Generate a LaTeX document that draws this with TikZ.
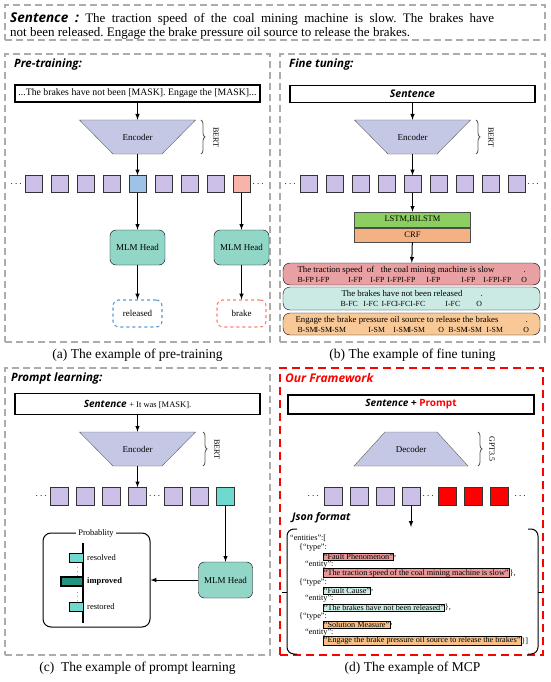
\documentclass[tikz,border=0pt]{standalone}
\usepackage{fontspec}
\usepackage{amsmath}
\setmainfont{Liberation Serif}
\newfontfamily\hdfont{Open Sans}
\usepackage{tikz}
\usetikzlibrary{arrows}
\usetikzlibrary{decorations.pathreplacing}

\definecolor{tokpurple}{RGB}{204,192,232}
\definecolor{encgray}{RGB}{197,200,228}
\definecolor{tokblue}{RGB}{157,195,230}
\definecolor{toksalmon}{RGB}{248,180,168}
\definecolor{headteal}{RGB}{146,214,200}
\definecolor{outblue}{RGB}{91,155,213}
\definecolor{outred}{RGB}{250,128,114}
\definecolor{lstmgreen}{RGB}{140,206,96}
\definecolor{crforange}{RGB}{244,177,131}
\definecolor{labred}{RGB}{232,160,162}
\definecolor{labteal}{RGB}{204,234,228}
\definecolor{laborange}{RGB}{248,200,150}
\definecolor{barteal}{RGB}{110,218,205}
\definecolor{bardark}{RGB}{32,150,130}
\definecolor{jred}{RGB}{232,150,150}
\definecolor{jteal}{RGB}{204,236,230}
\definecolor{jorange}{RGB}{246,192,135}

\newcommand{\hdit}{\hdfont\bfseries\itshape}
\newcommand{\fsz}[1]{\fontsize{#1}{#1}\selectfont}
\newcommand{\tg}[2]{\rlap{\hspace*{#1pt}#2}}
\newcommand{\tagfont}{\fontsize{7.8}{10}\selectfont}
% trapezoid body: centre x, centre y, top half width, bottom half width
\newcommand{\trapez}[4]{\draw [draw=gray!75!black, fill=encgray]
  ({#1-#3},{#2-17}) -- ({#1+#3},{#2-17}) -- ({#1+#4},{#2+17}) -- ({#1-#4},{#2+17}) -- cycle;}

\tikzset{
  panel/.style={draw=gray!65, dash pattern=on 7pt off 4pt, line width=1.1pt, inner sep=0pt},
  ptitle/.style={anchor=west, inner sep=0pt, font=\hdit\fsz{11.5}},
  captext/.style={inner sep=0pt, font=\fsz{13.5}},
  sentbox/.style={draw=black, line width=1.8pt, minimum width=245pt, minimum height=17pt, inner sep=0pt},
  enctext/.style={minimum height=34pt, minimum width=49pt, inner sep=0pt, font=\fsz{9}},
  tok/.style={draw=black!80, fill=tokpurple, minimum size=17pt, inner sep=0pt},
  dots/.style={inner sep=0pt, font=\fsz{10}},
  bert/.style={rotate=-90, inner sep=0pt, font=\fsz{8}},
  brc/.style={decorate, decoration={brace, amplitude=4pt}, draw=gray!70!black, line width=0.8pt},
  head/.style={draw=black, rounded corners=6pt, fill=headteal, minimum width=55pt, minimum height=35pt, inner sep=0pt, font=\fsz{9}},
  outbox/.style={dashed, rounded corners=6pt, line width=1.1pt, minimum width=49pt, minimum height=27pt, inner sep=0pt, font=\fsz{9}},
  arr/.style={-latex, line width=1pt},
  layer/.style={draw=gray!60!black, minimum width=116pt, inner sep=0pt, font=\fsz{8.5}},
  lab/.style={draw=black, rounded corners=7pt, minimum width=257pt, inner sep=0pt, align=center, font=\fontsize{8.8}{10}\selectfont},
  bar/.style={draw=black, line width=1pt, fill=barteal, minimum width=14pt, minimum height=9pt, inner sep=0pt},
  btext/.style={anchor=west, inner sep=0pt, font=\fsz{8.5}},
  jtext/.style={anchor=west, inner sep=0pt, font=\fsz{8.2}},
  hl/.style={draw=black, line width=0.6pt, anchor=west, inner sep=0.6pt, font=\fsz{8.2}}
}

\begin{document}
\begin{tikzpicture}[x=1pt,y=-1pt]
\useasboundingbox[fill=white] (0,0) rectangle (550,682);

\node [panel, minimum width=540pt, minimum height=35pt] (topBox) at (275,22.5) {};
\node [anchor=north west, text width=484pt, align=justify, inner sep=0pt, font=\fontsize{13}{14}\selectfont\frenchspacing] (topS) at (10,12.5)
  {{\hdit\fontsize{13.5}{14}\selectfont Sentence :} The traction speed of the coal mining machine is slow. The brakes have\linebreak
   not been released. Engage the brake pressure oil source to release the brakes.};

% (a) pre-training
\node [panel, minimum width=265pt, minimum height=288pt] (panA) at (137.5,198) {};
\node [ptitle] (titleA) at (14,65) {Pre-training:};
\node [sentbox, font=\fsz{9.8}] (sentA) at (137.5,93.5) {...The brakes have not been [MASK]. Engage the [MASK]...};
\trapez{137.5}{137}{58}{24.5}
\node [enctext] (encA) at (137.5,137) {Encoder};
\draw [brc] (201,120) -- (201,154);
\node [bert] (bertA) at (216,137) {BERT};
\node [dots] (dotsA1) at (17,184) {$\cdots$};
\node [dots] (dotsA2) at (259,184) {$\cdots$};
\foreach \i/\c in {1/tokpurple,2/tokpurple,3/tokpurple,4/tokpurple,5/tokblue,6/tokpurple,7/tokpurple,8/tokpurple,9/toksalmon}
  \node [tok, fill=\c] (tokA\i) at ({7.5+26*\i},184) {};
\node [head] (headA1) at (137.5,247.5) {MLM Head};
\node [head] (headA2) at (241.5,247.5) {MLM Head};
\node [outbox, draw=outblue] (outA1) at (137.5,313.5) {released};
\node [outbox, draw=outred] (outA2) at (241.5,313.5) {brake};
\draw [arr] (sentA) -- (encA);
\draw [arr] (encA) -- (tokA5);
\draw [arr] (tokA5) -- (headA1);
\draw [arr] (tokA9) -- (headA2);
\draw [arr] (headA1) -- (outA1);
\draw [arr] (headA2) -- (outA2);
\node [captext] (capA) at (137.5,355) {(a) The example of pre-training};

% (b) fine tuning
\node [panel, minimum width=265pt, minimum height=288pt] (panB) at (412.5,198) {};
\node [ptitle] (titleB) at (289,65) {Fine tuning:};
\node [sentbox, font=\hdit\fsz{10.5}] (sentB) at (412.5,94) {Sentence};
\trapez{412.5}{137}{58}{24.5}
\node [enctext] (encB) at (412.5,137) {Encoder};
\draw [brc] (476,120) -- (476,154);
\node [bert] (bertB) at (491,137) {BERT};
\node [dots] (dotsB1) at (291,184) {$\cdots$};
\node [dots] (dotsB2) at (534,184) {$\cdots$};
\foreach \i in {1,...,9}
  \node [tok] (tokB\i) at ({282.5+26*\i},184) {};
\node [layer, fill=lstmgreen, minimum height=15pt] (lstmB) at (412.5,219.5) {LSTM,BILSTM};
\node [layer, fill=crforange, minimum height=14pt] (crfB) at (412.5,235) {CRF};
\node [lab, fill=labred, minimum height=22pt] (labB1) at (411.5,274)
  {\tg{3}{The traction speed\ \ of\ \ \ the coal mining machine is slow}\tg{229}{.}\hspace*{234pt}\\
   {\tagfont\tg{3}{B-FP}\tg{21}{I-FP}\tg{54}{I-FP}\tg{76}{I-FP}\tg{93}{I-FP}\tg{107}{I-FP}\tg{132}{I-FP}\tg{167}{I-FP}\tg{189}{I-FP}\tg{203}{I-FP}\tg{227}{O}\hspace*{234pt}}};
\node [lab, fill=labteal, minimum height=23pt] (labB2) at (411.5,298.5)
  {\tg{47}{The brakes have not been released}\tg{186}{.}\hspace*{234pt}\\
   {\tagfont\tg{46}{B-FC}\tg{69}{I-FC}\tg{87}{I-FC}\tg{101}{I-FC}\tg{116}{I-FC}\tg{151}{I-FC}\tg{182}{O}\hspace*{234pt}}};
\node [lab, fill=laborange, minimum height=22pt] (labB3) at (411.5,324)
  {\tg{1}{Engage the brake pressure oil source to release the brakes}\tg{231}{.}\hspace*{234pt}\\
   {\tagfont\tg{3}{B-SM}\tg{21}{I-SM}\tg{35}{I-SM}\tg{74}{I-SM}\tg{99}{I-SM}\tg{114}{I-SM}\tg{144}{O}\tg{154}{B-SM}\tg{171}{I-SM}\tg{192}{I-SM}\tg{229}{O}\hspace*{234pt}}};
\draw [arr] (sentB) -- (encB);
\draw [arr] (encB) -- (tokB5);
\draw [arr] (tokB5) -- (lstmB);
\draw [arr] (crfB) -- (labB1);
\node [captext] (capB) at (412.5,355) {(b) The example of fine tuning};

% (c) prompt learning
\node [panel, minimum width=265pt, minimum height=287pt] (panC) at (137.5,511.5) {};
\node [ptitle] (titleC) at (11,379) {Prompt learning:};
\node [sentbox, minimum height=21pt] (sentC) at (137.5,404)
  {{\hdit\fsz{10}Sentence} {\fsz{8.5}+ It was [MASK].}};
\trapez{137.5}{449}{58}{24.5}
\node [enctext] (encC) at (137.5,449) {Encoder};
\draw [brc] (203,432) -- (203,466);
\node [bert] (bertC) at (217,449) {BERT};
\node [dots] (dotsC1) at (42,496.5) {$\cdots$};
\node [dots] (dotsC2) at (155.5,496.5) {$\cdots$};
\foreach \i/\x/\c in {1/59.5/tokpurple,2/85.5/tokpurple,3/111.5/tokpurple,4/137.5/tokpurple,5/173.5/tokpurple,6/199.5/tokpurple,7/225.5/barteal}
  \node [tok, fill=\c, minimum size=18pt] (tokC\i) at (\x,496.5) {};
\node [head, minimum width=54pt, minimum height=36pt] (headC) at (225.5,580) {MLM Head};
\node [draw=black, line width=1pt, rounded corners=8pt, minimum width=107pt, minimum height=94pt, inner sep=0pt] (probC) at (96.5,580) {};
\node [fill=white, inner sep=2pt, font=\fsz{8.5}] (probT) at (96,533) {Probablity};
\draw [line width=2pt] (83,543) -- (83,623);
\node [bar] (barC1) at (76,557.5) {};
\node [bar, fill=bardark, line width=1.4pt, minimum width=22pt] (barC2) at (72,581.5) {};
\node [bar] (barC3) at (76,606.5) {};
\node [btext] (wordC1) at (87,557.5) {resolved};
\node [btext, font=\bfseries\fsz{8.5}] (wordC2) at (87,581.5) {improved};
\node [btext] (wordC3) at (87,606.5) {restored};
\node [inner sep=0pt, font=\fsz{6}] (vdC1) at (77.5,569.5) {$\vdots$};
\node [inner sep=0pt, font=\fsz{6}] (vdC2) at (77.5,594) {$\vdots$};
\draw [arr] (sentC) -- (encC);
\draw [arr] (encC) -- (tokC4);
\draw [arr] (tokC7) -- (headC);
\draw [arr] (headC) -- (probC);
\node [captext] (capC) at (137.5,668) {(c)\ \ The example of prompt learning};

% (d) MCP
\node [panel, draw=red, dash pattern=on 8pt off 5pt, line width=1.5pt, minimum width=263pt, minimum height=287pt] (panD) at (411.5,511.5) {};
\node [ptitle, text=red, font=\hdit\fsz{12}] (titleD) at (285,378) {Our Framework};
\node [sentbox, minimum width=246pt, minimum height=19pt, font=\hdfont\bfseries\fsz{10}] (sentD) at (411,404.5)
  {{\itshape Sentence} + {\color{red}Prompt}};
\trapez{411}{449}{26}{57}
\node [enctext] (decD) at (411,449) {Decoder};
\draw [brc] (478,432) -- (478,466);
\node [bert] (gptD) at (492,449) {GPT3.5};
\node [dots] (dotsD1) at (314,496.5) {$\cdots$};
\node [dots] (dotsD2) at (429,496.5) {$\cdots$};
\node [dots] (dotsD3) at (521,496.5) {$\cdots$};
\foreach \i/\x/\c in {1/333/tokpurple,2/359/tokpurple,3/385/tokpurple,4/411/tokpurple,5/447/red,6/473/red,7/499/red}
  \node [tok, fill=\c, minimum size=18pt] (tokD\i) at (\x,496.5) {};
\coordinate (jsonTop) at (411,527);
\node [ptitle, font=\hdit\fsz{10.5}] (jsonT) at (292,518) {Json format};
\draw [arr] (tokD4) -- (jsonTop);
\draw [line width=1pt, rounded corners=7pt] (297,529) -| (287,592) |- (297,654);
\draw [line width=1pt] (287,592) -- (282,592);
\draw [line width=1pt, rounded corners=7pt] (528,529) -| (538,592) |- (528,654);
\draw [line width=1pt] (538,592) -- (542,592);
\node [jtext] (jEnt) at (290,538.5) {“entities”:[};
\node [jtext] (jType1) at (299,548) {\{“type”:};
\node [hl, fill=jred] (jVal1) at (323,557) {“Fault Phenomenon”};
\node [jtext] (jCom1) at (jVal1.east) {,};
\node [jtext] (jKey1) at (305,565) {“entity”:};
\node [hl, fill=jred] (jVal2) at (323,573) {“The traction speed of the coal mining machine is slow”};
\node [jtext] (jCom2) at (jVal2.east) {\},};
\node [jtext] (jType2) at (299,583) {\{“type”:};
\node [hl, fill=jteal] (jVal3) at (323,591) {“Fault Cause”};
\node [jtext] (jCom3) at (jVal3.east) {,};
\node [jtext] (jKey2) at (305,599) {“entity”:};
\node [hl, fill=jteal] (jVal4) at (323,607.5) {“The brakes have not been released”};
\node [jtext] (jCom4) at (jVal4.east) {\},};
\node [jtext] (jType3) at (299,616.5) {\{“type”:};
\node [hl, fill=jorange] (jVal5) at (323,624.5) {“Solution Measure”};
\node [jtext] (jCom5) at (jVal5.east) {,};
\node [jtext] (jKey3) at (305,633) {“entity”:};
\node [hl, fill=jorange] (jVal6) at (323,641) {“Engage the brake pressure oil source to release the brakes”};
\node [jtext] (jCom6) at (jVal6.east) {\}]};
\node [captext] (capD) at (412.5,668) {(d) The example of MCP};
\end{tikzpicture}
\end{document}
